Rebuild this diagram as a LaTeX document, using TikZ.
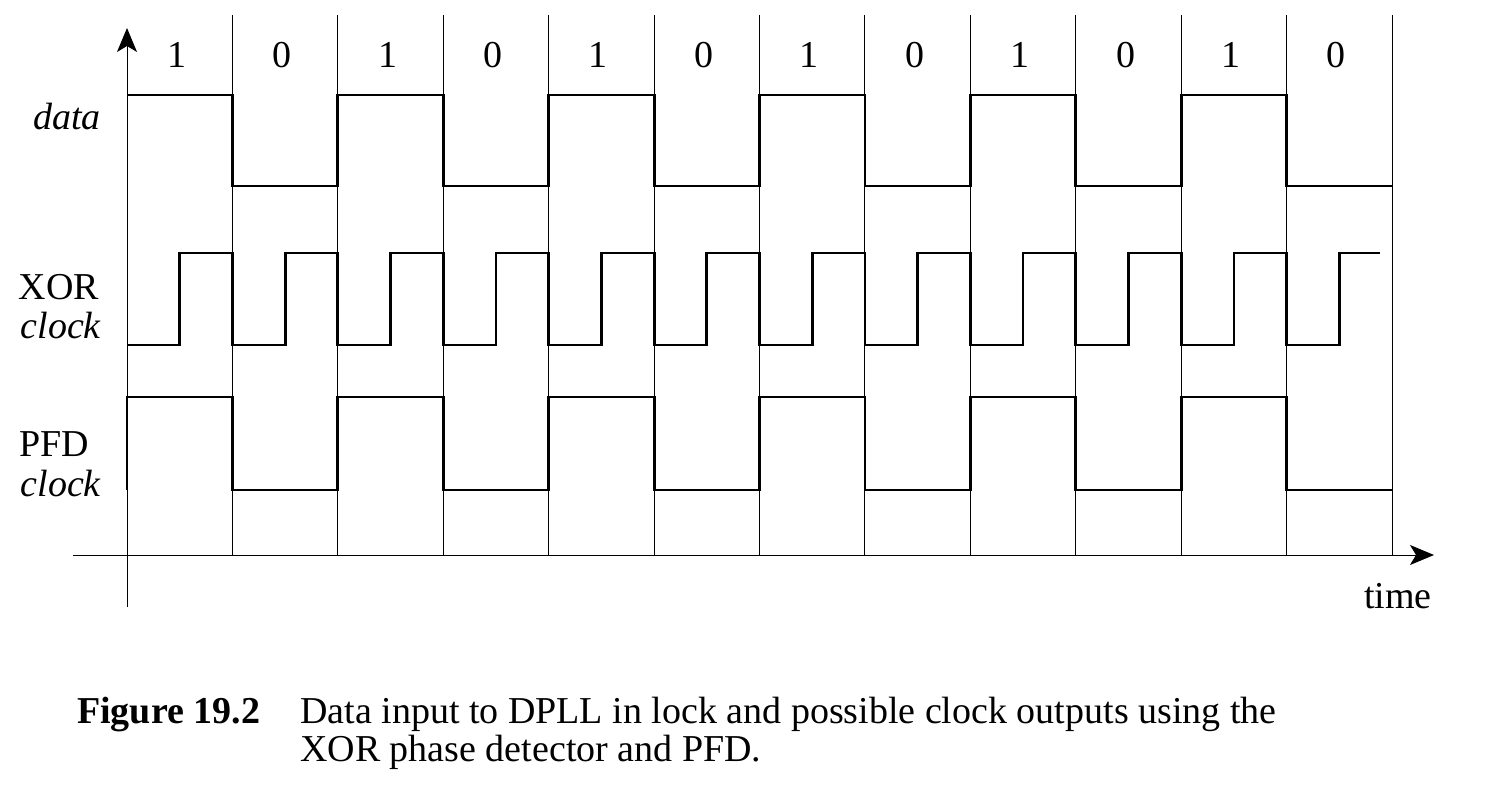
\documentclass[tikz,border=0pt]{standalone}
\usepackage{fontspec}
\setmainfont{Liberation Serif}
\usetikzlibrary{arrows.meta}
\begin{document}
\begin{tikzpicture}[x=1pt,y=-1pt,
  grid/.style={line width=1pt},
  sig/.style={line width=2.8pt,line join=miter},
  lbl/.style={font=\fontsize{38}{38}\selectfont,inner sep=0pt},
  bit/.style={font=\fontsize{38}{38}\selectfont,inner sep=0pt}]
\useasboundingbox (0,0) rectangle (1504,799);
\def\w{105.42}
% grid
\foreach \i in {1,...,12} \draw[grid] ({127+\w*\i},15) -- ({127+\w*\i},555);
\draw[grid,-{Stealth[length=24pt,width=20pt,inset=6pt]}] (127,607) -- (127,28);
\draw[grid,-{Stealth[length=24pt,width=20pt,inset=6pt]}] (73,555) -- (1434,555);
% bits
\foreach \i/\b in {0/1,1/0,2/1,3/0,4/1,5/0,6/1,7/0,8/1,9/0,10/1,11/0}
  \node[bit] (b\i) at ({124+\w*(\i+0.5)},55) {\b};
% data
\draw[sig] (127,95)
  \foreach \i in {0,2,...,8}{ -- ({127+\w*(\i+1)},95) -- ({127+\w*(\i+1)},186) -- ({127+\w*(\i+2)},186) -- ({127+\w*(\i+2)},95)}
  -- ({127+\w*11},95) -- ({127+\w*11},186) -- ({127+\w*12},186);
% XOR clock
\draw[sig] (127,345)
  \foreach \i in {0,...,10}{ -- ({127+\w*(\i+0.5)},345) -- ({127+\w*(\i+0.5)},253) -- ({127+\w*(\i+1)},253) -- ({127+\w*(\i+1)},345)}
  -- ({127+\w*11.5},345) -- ({127+\w*11.5},253) -- (1380,253);
% PFD clock
\draw[sig] (127,490) -- (127,397)
  \foreach \i in {0,2,...,8}{ -- ({127+\w*(\i+1)},397) -- ({127+\w*(\i+1)},490) -- ({127+\w*(\i+2)},490) -- ({127+\w*(\i+2)},397)}
  -- ({127+\w*11},397) -- ({127+\w*11},490) -- ({127+\w*12},490);
% labels
\node[lbl,anchor=east] (ldata) at (101,117) {\itshape data};
\node[lbl,anchor=east] (lxor) at (99,287) {XOR};
\node[lbl,anchor=east] (lxc) at (101,326) {\itshape clock};
\node[lbl,anchor=east] (lpfd) at (89,444) {PFD};
\node[lbl,anchor=east] (lpc) at (101,484) {\itshape clock};
\node[lbl] (ltime) at (1398,596) {time};
% caption
\node[lbl,anchor=base west] (fig) at (77,723) {\bfseries Figure 19.2};
\node[lbl,anchor=base west] (c1) at (300,723) {Data input to DPLL in lock and possible clock outputs using the};
\node[lbl,anchor=base west] (c2) at (300,761) {XOR phase detector and PFD.};
\end{tikzpicture}
\end{document}
